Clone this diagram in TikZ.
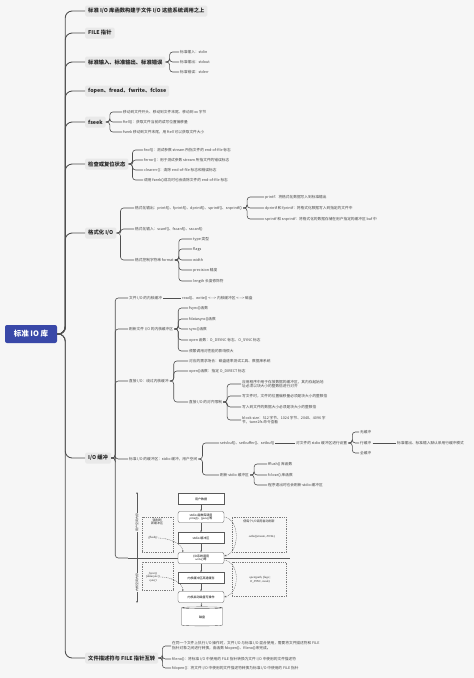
\documentclass[tikz,border=0pt]{standalone}
\usepackage{fontspec}
\setmainfont{Noto Sans CJK SC}
\newfontfamily\codefont{Liberation Serif}
\usepackage{tikz}
\usetikzlibrary{positioning,calc,arrows.meta,shapes.geometric}
\definecolor{bgcol}{RGB}{246,246,246}
\definecolor{rootblue}{RGB}{57,72,168}
\definecolor{topicgray}{RGB}{233,233,233}
\definecolor{textdark}{RGB}{40,40,40}
\definecolor{textgray}{RGB}{70,70,70}
\definecolor{linegray}{RGB}{80,80,80}
\definecolor{figline}{RGB}{90,90,90}

\begin{document}
\begin{tikzpicture}[x=1pt, y=-1pt, >={Stealth[length=2pt,width=1.6pt]},
  root/.style={fill=rootblue, rounded corners=2pt, text=white, minimum width=52pt, minimum height=18pt, inner sep=2pt, font=\bfseries\fontsize{7.5}{9}\selectfont},
  topic/.style={anchor=west, fill=topicgray, rounded corners=1.5pt, inner xsep=3pt, inner ysep=0pt, minimum height=11pt, text=textdark, font=\bfseries\fontsize{5.3}{6.4}\selectfont},
  leaf/.style={anchor=west, inner sep=1pt, text=textgray, align=left, font=\fontsize{3.7}{4.6}\selectfont},
  trunk/.style={line width=0.9pt, rounded corners=7pt, to path={-- ++(8,0) |- (\tikztotarget)}},
  branch/.style={rounded corners=3pt, to path={-- ++(4,0) |- (\tikztotarget)}},
  every edge/.append style={draw=linegray, line width=0.6pt},
  fbox/.style={draw=figline, fill=white, line width=0.35pt, minimum width=46pt, minimum height=11pt, inner sep=0.5pt, align=center, font=\fontsize{3}{3.7}\selectfont},
  rbox/.style={fbox, rounded corners=2pt},
  dbox/.style={draw=figline!80, line width=0.3pt, dash pattern=on 1pt off 0.8pt, minimum width=#1},
  ftext/.style={inner sep=0.5pt, align=center, text=textdark, font=\fontsize{3}{3.7}\selectfont},
  dasharrow/.style={->, draw=figline, line width=0.35pt, dash pattern=on 1pt off 0.8pt}]

\useasboundingbox (0,0) rectangle (474,678);
\fill[bgcol] (0,0) rectangle (474,678);

\node[root] (root) at (31,334) {标准 IO 库};

\node[topic] (t1) at (85,11) {标准 I/O 库函数构建于文件 I/O 这些系统调用之上};
\node[topic] (t2) at (85,33) {FILE 指针};
\node[topic] (t3) at (85,62) {标准输入、标准输出、标准错误};
\node[topic] (t4) at (85,91) {fopen、fread、fwrite、fclose};
\node[topic] (t5) at (85,122) {fseek};
\node[topic] (t6) at (85,164) {检查或复位状态};
\node[topic] (t7) at (85,233) {格式化 I/O};
\node[topic] (t8) at (85,458) {I/O 缓冲};
\node[topic] (t9) at (85,658) {文件描述符与 FILE 指针互转};

\path (root.east) edge[trunk] (t1.west) edge[trunk] (t2.west) edge[trunk] (t3.west)
  edge[trunk] (t4.west) edge[trunk] (t5.west) edge[trunk] (t6.west) edge[trunk] (t7.west)
  edge[trunk] (t8.west) edge[trunk] (t9.west);

% stdin / stdout / stderr
\node[leaf] (std1) at (179,52) {标准输入：stdin};
\node[leaf] (std2) at (179,62) {标准输出：stdout};
\node[leaf] (std3) at (179,72) {标准错误：stderr};
\path (t3.east) edge[branch] (std1.west) edge[branch] (std2.west) edge[branch] (std3.west);

% fseek
\node[leaf] (seek1) at (122,112) {移动到文件开头、移动到文件末尾、移动到 xx 字节};
\node[leaf] (seek2) at (122,122) {ftell()：获取文件当前的读写位置偏移量};
\node[leaf] (seek3) at (122,132) {fseek 移动到文件末尾，用 ftell 可以获取文件大小};
\path (t5.east) edge[branch] (seek1.west) edge[branch] (seek2.west) edge[branch] (seek3.west);

% status
\node[leaf] (st1) at (143,150) {feof()：测试参数 stream 所指文件的 end-of-file 标志};
\node[leaf] (st2) at (143,160) {ferror()：用于测试参数 stream 所指文件的错误标志};
\node[leaf] (st3) at (143,170) {clearerr()：清除 end-of-file 标志和错误标志};
\node[leaf] (st4) at (143,180) {调用 fseek()成功时也会清除文件的 end-of-file 标志};
\path (t6.east) edge[branch] (st1.west) edge[branch] (st2.west) edge[branch] (st3.west) edge[branch] (st4.west);

% formatted I/O
\node[leaf] (fo) at (134,208) {格式化输出：printf()、fprintf()、dprintf()、sprintf()、snprintf()};
\node[leaf] (fi) at (134,229) {格式化输入：scanf()、fscanf()、sscanf()};
\node[leaf] (fm) at (134,260) {格式控制字符串 format};
\path (t7.east) edge[branch] (fo.west) edge[branch] (fi.west) edge[branch] (fm.west);

\node[leaf] (fo1) at (264,197) {printf：将格式化数据写入到标准输出};
\node[leaf] (fo2) at (264,208) {dprintf 和 fprintf：将格式化数据写入到指定的文件中};
\node[leaf] (fo3) at (264,219) {sprintf 和 snprintf：将格式化的数据存储在用户指定的缓冲区 buf 中};
\path (fo.east) edge[branch] (fo1.west) edge[branch] (fo2.west) edge[branch] (fo3.west);

\node[leaf] (fm1) at (192,239) {type 类型};
\node[leaf] (fm2) at (192,249) {flags};
\node[leaf] (fm3) at (192,260) {width};
\node[leaf] (fm4) at (192,270) {precision 精度};
\node[leaf] (fm5) at (192,281) {length 长度修饰符};
\path (fm.east) edge[branch] (fm1.west) edge[branch] (fm2.west) edge[branch] (fm3.west)
  edge[branch] (fm4.west) edge[branch] (fm5.west);

% I/O buffering
\node[leaf] (kb) at (128,298) {文件 I/O 的内核缓冲};
\node[leaf] (kf) at (128,329) {刷新文件 I/O 的内核缓冲区};
\node[leaf] (dio) at (128,381) {直接 I/O：绕过内核缓冲};
\node[leaf] (sbuf) at (128,459) {标准 I/O 的缓冲区：stdio 缓冲，用户空间};
\node[minimum width=172pt, minimum height=144pt, inner sep=0pt] (fig) at (214,558) {};
\path (t8.east) edge[branch] (kb.west) edge[branch] (kf.west) edge[branch] (dio.west)
  edge[branch] (sbuf.west) edge[branch] (fig.west);

\node[leaf] (kbpath) at (181,298) {read()、write() <{-}{-}{-}> 内核缓冲区 <{-}{-}{-}> 磁盘};
\path (kb.east) edge (kbpath.west);

\node[leaf] (kf1) at (188,308) {fsync()函数};
\node[leaf] (kf2) at (188,319) {fdatasync()函数};
\node[leaf] (kf3) at (188,329) {sync()函数};
\node[leaf] (kf4) at (188,340) {open 函数：O\_DSYNC 标志、O\_SYNC 标志};
\node[leaf] (kf5) at (188,351) {频繁调用对性能的影响很大};
\path (kf.east) edge[branch] (kf1.west) edge[branch] (kf2.west) edge[branch] (kf3.west)
  edge[branch] (kf4.west) edge[branch] (kf5.west);

\node[leaf] (dio1) at (188,361) {对应的需求场合：磁盘速率测试工具、数据库系统};
\node[leaf] (dio2) at (188,371) {open()函数：指定 O\_DIRECT 标志};
\node[leaf] (dio3) at (188,402) {直接 I/O 的对齐限制};
\path (dio.east) edge[branch] (dio1.west) edge[branch] (dio2.west) edge[branch] (dio3.west);

\node[leaf] (al1) at (241,384) {应用程序中用于存放数据的缓冲区，其内存起始地\\址必须以块大小的整数倍进行对齐};
\node[leaf] (al2) at (241,396) {写文件时，文件的位置偏移量必须是块大小的整数倍};
\node[leaf] (al3) at (241,407) {写入到文件的数据大小必须是块大小的整数倍};
\node[leaf] (al4) at (241,420) {block size：512 字节、1024 字节、2048、4096 字\\节，tune2fs 命令查看};
\path (dio3.east) edge[branch] (al1.west) edge[branch] (al2.west) edge[branch] (al3.west) edge[branch] (al4.west);

\node[leaf] (sset) at (219,443) {setvbuf()、setbuffer()、setbuf()};
\node[leaf] (sfl) at (219,475) {刷新 stdio 缓冲区};
\path (sbuf.east) edge[branch] (sset.west) edge[branch] (sfl.west);

\node[leaf] (smode) at (295,443) {对文件的 stdio 缓冲区进行设置};
\path (sset.east) edge (smode.west);
\node[leaf] (m1) at (359,432) {无缓冲};
\node[leaf] (m2) at (359,443) {行缓冲};
\node[leaf] (m3) at (359,453) {全缓冲};
\path (smode.east) edge[branch] (m1.west) edge[branch] (m2.west) edge[branch] (m3.west);
\node[leaf] (m2note) at (396,443) {标准输出、标准输入默认采用行缓冲模式};
\path (m2.east) edge (m2note.west);

\node[leaf] (sfl1) at (267,464) {fflush() 库函数};
\node[leaf] (sfl2) at (267,475) {fclose() 库函数};
\node[leaf] (sfl3) at (267,485) {程序退出时也会刷新 stdio 缓冲区};
\path (sfl.east) edge[branch] (sfl1.west) edge[branch] (sfl2.west) edge[branch] (sfl3.west);

% buffering figure
\coordinate (divend) at (290,558);
\draw[draw=figline, line width=0.8pt] (fig.west) -- (divend);

\node[dbox=31pt, minimum height=35pt] (lu) at (157.5,534.5) {};
\node[dbox=31pt, minimum height=28pt] (ll) at (157.5,576) {};
\node[dbox=54pt, minimum height=35pt] (ru) at (259,534.5) {};
\node[dbox=54pt, minimum height=34pt] (rl) at (259,579) {};

\node[fbox] (ud) at (201,499) {用户数据};
\node[rbox] (sc) at (201,517) {stdio 函数库调用\\{\codefont\itshape printf()}、{\codefont\itshape fputc()}等};
\node[fbox] (sb) at (201,538) {stdio 缓冲区};
\node[rbox] (io) at (201,558) {I/O系统调用\\{\codefont\itshape write()}等};
\node[fbox] (kc) at (201,578) {内核缓冲区高速缓存};
\node[rbox] (kw) at (201,597) {内核启动磁盘写操作};
\node[fbox, cylinder, shape border rotate=90, aspect=0.25, minimum width=41pt, minimum height=19pt] (disk) at (202,617) {磁盘};

\draw[->, draw=figline, line width=0.35pt] (ud) -- (sc);
\draw[->, draw=figline, line width=0.35pt] (sc) -- (sb);
\draw[->, draw=figline, line width=0.35pt] (sb) -- (io);
\draw[->, draw=figline, line width=0.35pt] (io) -- (kc);
\draw[->, draw=figline, line width=0.35pt] (kc) -- (kw);
\draw[->, draw=figline, line width=0.35pt] (kw) -- (disk);

\node[ftext] (lutext) at (157,522) {强制刷\\新缓冲区};
\node[ftext, font=\codefont\itshape\fontsize{3}{3.7}\selectfont] (ff) at (153,538) {fflush()};
\node[ftext, font=\codefont\itshape\fontsize{3}{3.7}\selectfont] (fs) at (153,577) {fsync()\\fdatasync()\\sync()};
\node[ftext] (rutext) at (259,521) {使每个I/O调用自动刷新};
\node[ftext, font=\codefont\itshape\fontsize{3}{3.7}\selectfont] (setb) at (262,537) {setbuf(stream, NULL)};
\node[ftext, font=\codefont\itshape\fontsize{3}{3.7}\selectfont] (opn) at (260,580) {open(path, flags |\\O\_SYNC, mode)};

\draw[dasharrow] (ff.east) .. controls +(12,0) and +(0,-8) .. ($(io.north west)+(5,0)$);
\draw[dasharrow] (fs.east) .. controls +(12,0) and +(0,-8) .. ($(kw.north west)+(5,0)$);
\draw[dasharrow] (sc.east) .. controls +(16,2) and +(16,-4) .. ($(io.east)+(0,-2)$);
\draw[dasharrow] ($(io.east)+(0,2)$) .. controls +(16,2) and +(16,-4) .. (kw.east);

\coordinate (memtop) at (137,492);
\coordinate (membot) at (137,603);
\draw[{Stealth[length=2pt,width=1.6pt]}-{Stealth[length=2pt,width=1.6pt]}, draw=figline, line width=0.35pt] (memtop) -- (membot);
\node[ftext, rotate=90, fill=bgcol] (umem) at (137,522) {用户空间内存};
\node[ftext, rotate=90, fill=bgcol] (kmem) at (137,582) {内核空间内存};

% fd <-> FILE
\node[leaf] (fd1) at (171,646) {在同一个文件上执行 I/O 操作时，文件 I/O 与标准 I/O 混合使用，需要将文件描述符和 FILE\\指针对象之间进行转换，由函数 fdopen()、fileno()来完成。};
\node[leaf] (fd2) at (171,659) {fileno()：将标准 I/O 中使用的 FILE 指针转换为文件 I/O 中使用的文件描述符};
\node[leaf] (fd3) at (171,668) {fdopen()：将文件 I/O 中使用的文件描述符转换为标准 I/O 中使用的 FILE 指针};
\path (t9.east) edge[branch] (fd1.west) edge[branch] (fd2.west) edge[branch] (fd3.west);
\end{tikzpicture}
\end{document}
